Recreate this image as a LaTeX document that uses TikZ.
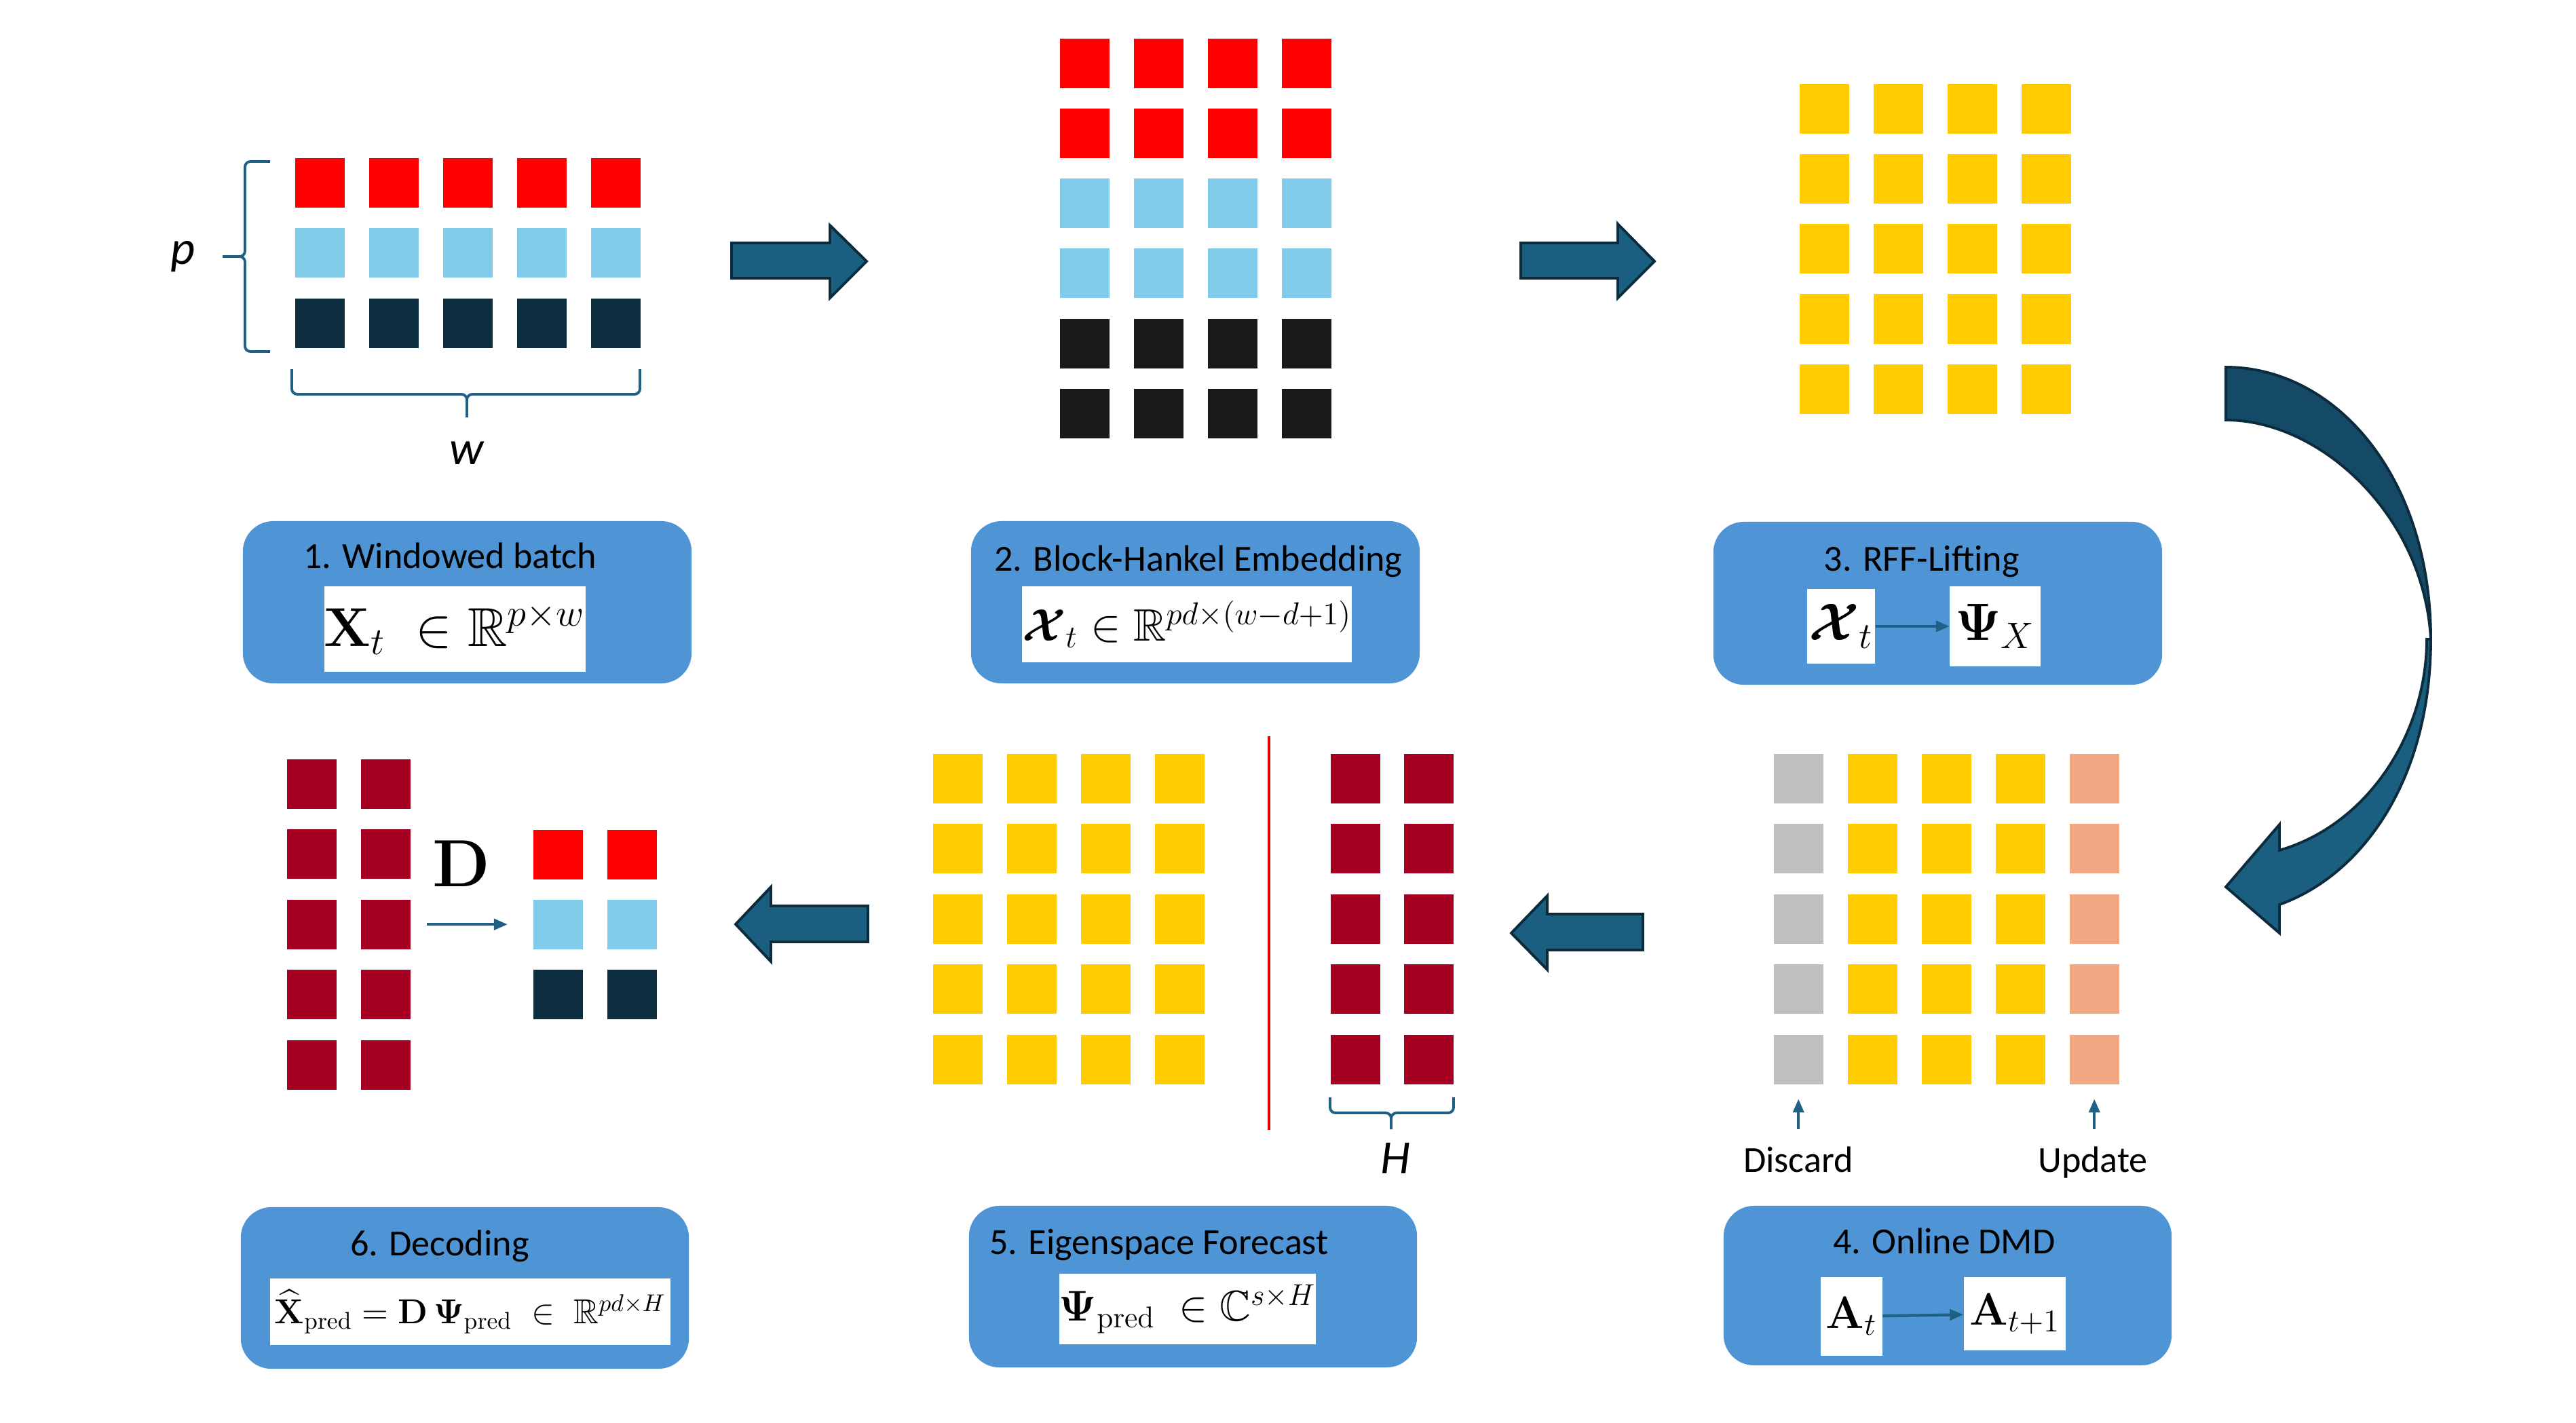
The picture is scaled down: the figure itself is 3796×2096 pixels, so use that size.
\documentclass[tikz,border=0pt]{standalone}
\usepackage{fix-cm}
\usepackage{amsmath,amssymb,bm}
\usepackage[no-math]{fontspec}
\setmainfont{Carlito}
\usetikzlibrary{arrows.meta}

\definecolor{cred}{HTML}{FF0000}
\definecolor{clblue}{HTML}{83CBEB}
\definecolor{cnavy}{HTML}{0E2F40}
\definecolor{cblack}{HTML}{1A1A1A}
\definecolor{cyellow}{HTML}{FFCC00}
\definecolor{cgray}{HTML}{BFBFBF}
\definecolor{csalmon}{HTML}{F1A983}
\definecolor{cdarkred}{HTML}{A50021}
\definecolor{cbox}{HTML}{4F95D6}
\definecolor{carrow}{HTML}{1A5E80}
\definecolor{carrowdark}{HTML}{154A66}
\definecolor{cedge}{HTML}{0C2B3D}
\definecolor{cteal}{HTML}{1F6085}

\begin{document}
\begin{tikzpicture}[x=0.01cm, y=-0.01cm,
  cell/.style={minimum size=0.73cm, inner sep=0pt, anchor=north west},
  stepbox/.style={fill=cbox, rounded corners=0.45cm, inner sep=0pt},
  formbox/.style={fill=white, inner sep=0pt},
  blockarrow/.style={fill=carrow, draw=cedge, line width=1.1pt},
  brace/.style={draw=cteal, line width=1.1pt, rounded corners=0.08cm},
  smallarrow/.style={-{Triangle[length=0.2cm,width=0.16cm]}, draw=cteal, line width=1.2pt},
  title/.style={font=\fontsize{15.4}{18}\selectfont, anchor=base, inner sep=0pt},
  dimlabel/.style={font=\fontsize{20}{24}\selectfont\itshape, inner sep=0pt}]
\useasboundingbox (0,0) rectangle (3796,2096);
\fill[white] (0,0) rectangle (3796,2096);

% 1. windowed batch
\foreach \r/\col in {1/cred,2/clblue,3/cnavy}
  \foreach \c in {1,...,5}
    \node[cell, fill=\col] (ga-\r-\c) at ({434+109*(\c-1)},{232+103.5*(\r-1)}) {};
\draw[brace] (398,238) -- (361,238) -- (361,378) -- (328,378);
\draw[brace] (398,518) -- (361,518) -- (361,378) -- (328,378);
\node[dimlabel] (plab) at (270,378) {p};
\draw[brace] (430,544) -- (430,581) -- (688,581) -- (688,615);
\draw[brace] (943,544) -- (943,581) -- (688,581) -- (688,615);
\node[dimlabel] (wlab) at (688,668) {w};

\node[stepbox, minimum width=6.61cm, minimum height=2.39cm] (box1) at (688.5,887.5) {};
\node[title] (t1) at (663,837) {1. Windowed batch};
\node[formbox, minimum width=3.26cm, minimum height=1.25cm] (f1) at (670,927)
  {\fontsize{23}{27}\selectfont $\mathbf{X}_t\;\in\mathbb{R}^{p\times w}$};

\draw[blockarrow] (1078,358) -- (1223,358) -- (1223,332) -- (1277,385)
  -- (1223,439) -- (1223,410) -- (1078,410) -- cycle;

% 2. block-Hankel embedding
\foreach \r/\col in {1/cred,2/cred,3/clblue,4/clblue,5/cblack,6/cblack}
  \foreach \c in {1,...,4}
    \node[cell, fill=\col] (gb-\r-\c) at ({1561+109*(\c-1)},{56+103.2*(\r-1)}) {};

\node[stepbox, minimum width=6.61cm, minimum height=2.39cm] (box2) at (1761.5,887.5) {};
\node[title] (t2) at (1766,841) {2. Block-Hankel Embedding};
\node[formbox, minimum width=4.78cm, minimum height=1.11cm] (f2) at (1749,920)
  {\fontsize{19}{23}\selectfont $\bm{\mathcal{X}}_t\in\mathbb{R}^{pd\times(w-d+1)}$};

\draw[blockarrow] (2241,358) -- (2384,358) -- (2384,330) -- (2438,385)
  -- (2384,439) -- (2384,410) -- (2241,410) -- cycle;

% 3. RFF lifting
\foreach \r in {1,...,5}
  \foreach \c in {1,...,4}
    \node[cell, fill=cyellow] (gc-\r-\c) at ({2651+109*(\c-1)},{123+103.25*(\r-1)}) {};

\node[stepbox, minimum width=6.61cm, minimum height=2.40cm] (box3) at (2855.5,889) {};
\node[title] (t3) at (2832,841) {3. RFF-Lifting};
\node[formbox, minimum width=1.00cm, minimum height=1.09cm] (f3a) at (2713,923)
  {\fontsize{22}{26}\selectfont $\bm{\mathcal{X}}_t$};
\node[formbox, minimum width=1.33cm, minimum height=1.17cm] (f3b) at (2940,923)
  {\fontsize{22}{26}\selectfont $\bm{\Psi}_X$};
\draw[smallarrow] (f3a) -- (f3b);

% curved arrow
\filldraw[fill=carrowdark, draw=cedge, line width=1.1pt]
  (3280,541) .. controls (3440,541) and (3582,700) .. (3582,942)
  .. controls (3572,760) and (3420,619) .. (3280,619) -- cycle;
\filldraw[fill=carrow, draw=cedge, line width=1.1pt]
  (3582,942) .. controls (3582,1150) and (3480,1290) .. (3359,1333)
  -- (3359,1375) -- (3280,1307) -- (3359,1215) -- (3359,1253)
  .. controls (3490,1215) and (3576,1080) .. (3576,942) -- cycle;

% 4. online DMD
\foreach \r in {1,...,5}
  \foreach \c/\col in {1/cgray,2/cyellow,3/cyellow,4/cyellow,5/csalmon}
    \node[cell, fill=\col] (gd-\r-\c) at ({2613+109*(\c-1)},{1110+103.5*(\r-1)}) {};
\node[title] (discard) at (2650,1727) {Discard};
\node[title] (update) at (3084,1727) {Update};
\draw[smallarrow] ([yshift=-0.65cm]gd-5-1.south) -- ([yshift=-0.21cm]gd-5-1.south);
\draw[smallarrow] ([yshift=-0.65cm]gd-5-5.south) -- ([yshift=-0.21cm]gd-5-5.south);

\node[stepbox, minimum width=6.60cm, minimum height=2.35cm] (box4) at (2870,1894.5) {};
\node[title] (t4) at (2865,1847) {4. Online DMD};
\node[formbox, minimum width=0.91cm, minimum height=1.15cm] (f4a) at (2728,1940)
  {\fontsize{19}{23}\selectfont $\mathbf{A}_t$};
\node[formbox, minimum width=1.50cm, minimum height=1.07cm] (f4b) at (2969,1936)
  {\fontsize{19}{23}\selectfont $\mathbf{A}_{t+1}$};
\draw[smallarrow] (f4a) -- (f4b);

\draw[blockarrow] (2421,1347) -- (2280,1347) -- (2280,1320) -- (2227,1375)
  -- (2280,1429) -- (2280,1400) -- (2421,1400) -- cycle;

% 5. eigenspace forecast
\foreach \r in {1,...,5}
  \foreach \c in {1,...,4}
    \node[cell, fill=cyellow] (ge-\r-\c) at ({1374+109*(\c-1)},{1110+103.5*(\r-1)}) {};
\foreach \r in {1,...,5}
  \foreach \c in {1,2}
    \node[cell, fill=cdarkred] (gf-\r-\c) at ({1960+108*(\c-1)},{1110+103.5*(\r-1)}) {};
\draw[red!90!black, line width=1.4pt] (1870,1085) -- (1870,1665);
\draw[brace] (1960,1617) -- (1960,1640) -- (2050,1640) -- (2050,1664);
\draw[brace] (2142,1617) -- (2142,1640) -- (2050,1640) -- (2050,1664);
\node[dimlabel] (hlab) at (2056,1707) {H};

\node[stepbox, minimum width=6.60cm, minimum height=2.38cm] (box5) at (1758,1896) {};
\node[title] (t5) at (1708,1848) {5. Eigenspace Forecast};
\node[formbox, minimum width=3.65cm, minimum height=1.04cm] (f5) at (1750,1929)
  {\fontsize{18}{22}\selectfont $\bm{\Psi}_{\mathrm{pred}}\;\in\mathbb{C}^{s\times H}$};

\draw[blockarrow] (1279,1335) -- (1136,1335) -- (1136,1307) -- (1084,1362)
  -- (1136,1417) -- (1136,1388) -- (1279,1388) -- cycle;

% 6. decoding
\foreach \r in {1,...,5}
  \foreach \c in {1,2}
    \node[cell, fill=cdarkred] (gg-\r-\c) at ({422+109*(\c-1)},{1118+103.5*(\r-1)}) {};
\foreach \r/\col in {1/cred,2/clblue,3/cnavy}
  \foreach \c in {1,2}
    \node[cell, fill=\col] (gh-\r-\c) at ({785+109*(\c-1)},{1222+103*(\r-1)}) {};
\node[inner sep=0pt] (dlab) at (680,1273) {\fontsize{28}{32}\selectfont $\mathbf{D}$};
\draw[smallarrow, shorten <=0.24cm, shorten >=0.37cm] (gg-3-2.east) -- (gh-2-1.west);

\node[stepbox, minimum width=6.60cm, minimum height=2.38cm] (box6) at (685,1898) {};
\node[title] (t6) at (648,1850) {6. Decoding};
\node[formbox, minimum width=5.89cm, minimum height=0.98cm] (f6) at (693,1933)
  {\fontsize{14.5}{17}\selectfont $\widehat{\mathbf{X}}_{\mathrm{pred}}=\mathbf{D}\,\bm{\Psi}_{\mathrm{pred}}\;\in\;\mathbb{R}^{pd\times H}$};
\end{tikzpicture}
\end{document}
